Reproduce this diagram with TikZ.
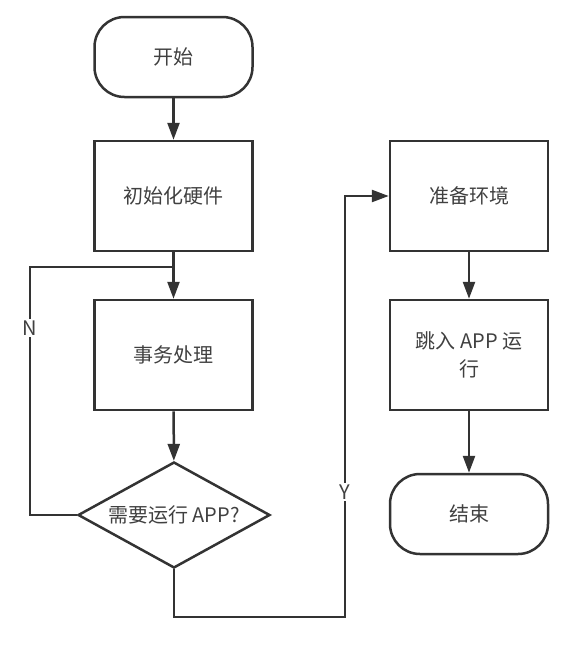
\documentclass[tikz,border=0pt]{standalone}
\usepackage{fontspec}
\setmainfont{Noto Sans CJK SC}
\usepackage{xcolor}
\usetikzlibrary{arrows.meta, shapes.geometric}
\definecolor{ink} {HTML}{333333}
\definecolor{txt} {HTML}{404040}

\begin{document}
\begin{tikzpicture}[x=1pt, y=-1pt,
  % one pixel of the flow chart is one point here
  term/.style={draw=ink, rounded corners=30pt, minimum width=158pt, minimum height=80pt,
               line width=2.5pt, text=txt, font=\fontsize{20pt}{28pt}\selectfont},
  proc/.style={draw=ink, rectangle, minimum width=158pt, minimum height=110pt,
               line width=2.5pt, text=txt, align=center, font=\fontsize{20pt}{28pt}\selectfont},
  cond/.style={draw=ink, diamond, minimum width=192pt, minimum height=106pt, inner sep=0pt,
               aspect=1.8, line width=2.5pt, text=txt, font=\fontsize{20pt}{28pt}\selectfont},
  arr/.style={-{Triangle[length=17pt, width=12pt]}, line width=2.5pt, color=ink},
  line/.style={line width=2.5pt, color=ink},
  lab/.style={fill=white, inner sep=2pt, text=txt, font=\fontsize{20pt}{28pt}\selectfont}
]
\useasboundingbox (0,0) rectangle (576,646);

\node[term] (start) at (173.5, 57)  {开始};
\node[proc] (init)  at (173.5, 196) {初始化硬件};
\node[proc] (task)  at (173.5, 355) {事务处理};
\node[cond] (ask)   at (174, 515)   {需要运行 APP?};
\node[proc] (prep)  at (469, 196)   {准备环境};
\node[proc] (jump)  at (469, 355)   {跳入 APP 运\\行};
\node[term] (stop)  at (469, 514)   {结束};

\coordinate (nleft) at (30, 267);
\coordinate (njoin) at (173.5, 267);
\coordinate (ybot)  at (345, 617);

\draw[arr] (start) -- (init);
\draw[arr] (init) -- (task);
\draw[arr] (task) -- (ask);
\draw[line] (ask.west) -| (nleft) -- (njoin);
\draw[arr] (ask.south) |- (ybot) |- (prep.west);
\draw[arr] (prep) -- (jump);
\draw[arr] (jump) -- (stop);

\node[lab] (nlab) at (30, 328)  {N};
\node[lab] (ylab) at (345, 492) {Y};

\end{tikzpicture}
\end{document}
